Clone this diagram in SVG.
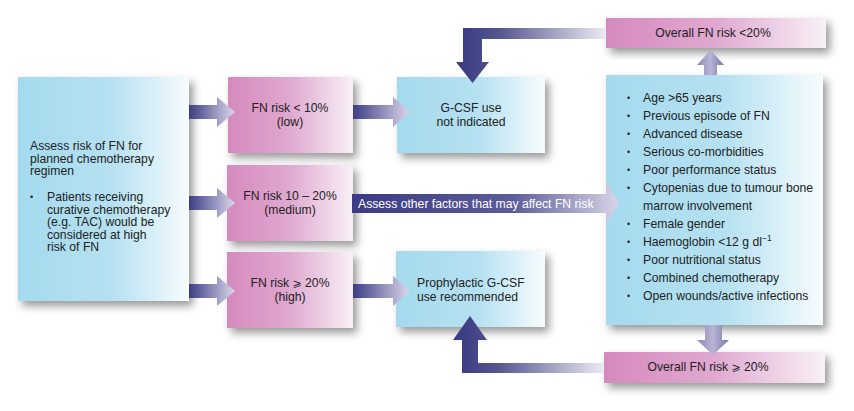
<svg xmlns="http://www.w3.org/2000/svg" width="854" height="411" viewBox="0 0 854 411">
<defs>
<linearGradient id="gPink" x1="0" y1="0" x2="1" y2="0">
<stop offset="0" stop-color="#d58abe"/><stop offset="0.5" stop-color="#e0a9d0"/><stop offset="1" stop-color="#f9f0f7"/>
</linearGradient>
<linearGradient id="gBlue" x1="0" y1="0" x2="1" y2="0">
<stop offset="0" stop-color="#a5daee"/><stop offset="0.55" stop-color="#b5e1f1"/><stop offset="1" stop-color="#f7fcfe"/>
</linearGradient>
<linearGradient id="gArrow" x1="0" y1="0" x2="1" y2="0">
<stop offset="0" stop-color="#3c3d84"/><stop offset="0.45" stop-color="#8483b4"/><stop offset="1" stop-color="#dcd8ea"/>
</linearGradient>
<linearGradient id="gAssess" x1="0" y1="0" x2="1" y2="0">
<stop offset="0" stop-color="#3a3b82"/><stop offset="0.6" stop-color="#5c5c98"/><stop offset="1" stop-color="#d9d5e8"/>
</linearGradient>
<linearGradient id="gTopL" gradientUnits="userSpaceOnUse" x1="606" y1="0" x2="463" y2="0">
<stop offset="0" stop-color="#ecebf3"/><stop offset="0.75" stop-color="#55558f"/><stop offset="1" stop-color="#3c3d84"/>
</linearGradient>
<linearGradient id="gBotL" gradientUnits="userSpaceOnUse" x1="604" y1="0" x2="462" y2="0">
<stop offset="0" stop-color="#ecebf3"/><stop offset="0.75" stop-color="#55558f"/><stop offset="1" stop-color="#3c3d84"/>
</linearGradient>
<linearGradient id="gVert" x1="0" y1="0" x2="1" y2="0">
<stop offset="0" stop-color="#8c8ab8"/><stop offset="0.5" stop-color="#b8b4d4"/><stop offset="1" stop-color="#7775a8"/>
</linearGradient>
<filter id="sh" x="-20%" y="-20%" width="150%" height="160%">
<feDropShadow dx="4" dy="5" stdDeviation="4" flood-color="#000" flood-opacity="0.4"/>
</filter>
</defs>
<style>
text{font-family:"Liberation Sans",Arial,"DejaVu Sans",sans-serif;font-size:12.2px;fill:#222}
.c{text-anchor:middle}
.pink{fill:url(#gPink);filter:url(#sh)}
.blue{fill:url(#gBlue);filter:url(#sh)}
.bul{font-size:9px}
.w{fill:#fff}
</style>
<rect width="854" height="411" fill="#fff"/>

<g id="assess-box">
<rect class="blue" x="18" y="77" width="171" height="224"/>
<text x="30" y="150">Assess risk of FN for</text>
<text x="30" y="162.5">planned chemotherapy</text>
<text x="30" y="175">regimen</text>
<text class="bul" x="30" y="200">•</text>
<text x="47" y="201">Patients receiving</text>
<text x="47" y="213.5">curative chemotherapy</text>
<text x="47" y="226">(e.g. TAC) would be</text>
<text x="47" y="238.5">considered at high</text>
<text x="47" y="251">risk of FN</text>
</g>

<g id="risk-low">
<rect class="pink" x="228" y="77" width="125" height="76"/>
<text class="c" x="290" y="112">FN risk &lt; 10%</text>
<text class="c" x="290" y="126">(low)</text>
</g>
<g id="risk-medium">
<rect class="pink" x="227" y="165" width="126" height="76"/>
<text class="c" x="290" y="200">FN risk 10 – 20%</text>
<text class="c" x="290" y="214">(medium)</text>
</g>
<g id="risk-high">
<rect class="pink" x="227" y="252" width="126" height="76"/>
<text class="c" x="290" y="287">FN risk <tspan font-family="DejaVu Sans" font-size="11">⩾</tspan> 20%</text>
<text class="c" x="290" y="301">(high)</text>
</g>

<g id="gcsf-not">
<rect class="blue" x="397" y="77" width="148" height="76"/>
<text class="c" x="471" y="112">G-CSF use</text>
<text class="c" x="471" y="126">not indicated</text>
</g>
<g id="gcsf-yes">
<rect class="blue" x="396" y="251" width="149" height="76"/>
<text x="417" y="287">Prophylactic G-CSF</text>
<text x="417" y="301">use recommended</text>
</g>

<g id="factors">
<rect class="blue" x="606" y="75" width="217" height="250"/>
<text class="bul" x="627" y="101">•</text><text x="643" y="102">Age &gt;65 years</text>
<text class="bul" x="627" y="119">•</text><text x="643" y="120">Previous episode of FN</text>
<text class="bul" x="627" y="137">•</text><text x="643" y="138">Advanced disease</text>
<text class="bul" x="627" y="155">•</text><text x="643" y="156">Serious co-morbidities</text>
<text class="bul" x="627" y="173">•</text><text x="643" y="174">Poor performance status</text>
<text class="bul" x="627" y="191">•</text><text x="643" y="192">Cytopenias due to tumour bone</text>
<text x="643" y="210">marrow involvement</text>
<text class="bul" x="627" y="227">•</text><text x="643" y="228">Female gender</text>
<text class="bul" x="627" y="245">•</text><text x="643" y="246">Haemoglobin &lt;12 g dl<tspan font-size="8.5" dy="-5">−1</tspan></text>
<text class="bul" x="627" y="263">•</text><text x="643" y="264">Poor nutritional status</text>
<text class="bul" x="627" y="281">•</text><text x="643" y="282">Combined chemotherapy</text>
<text class="bul" x="627" y="299">•</text><text x="643" y="300">Open wounds/active infections</text>
</g>

<g id="overall-low">
<rect class="pink" x="606" y="18" width="220" height="30"/>
<text class="c" x="713" y="37">Overall FN risk &lt;20%</text>
</g>
<g id="overall-high">
<rect class="pink" x="604" y="352" width="221" height="31"/>
<text class="c" x="708" y="371">Overall FN risk <tspan font-family="DejaVu Sans" font-size="11">⩾</tspan> 20%</text>
</g>

<g id="connectors">
<polygon fill="url(#gArrow)" points="189,105 217,105 217,97 235,112 217,127 217,119 189,119"/>
<polygon fill="url(#gArrow)" points="189,196 217,196 217,188 235,203 217,218 217,210 189,210"/>
<polygon fill="url(#gArrow)" points="189,284 217,284 217,276 235,291 217,306 217,298 189,298"/>
<polygon fill="url(#gArrow)" points="353,105 393,105 393,97 410,112 393,127 393,119 353,119"/>
<polygon fill="url(#gArrow)" points="353,284 393,284 393,276 410,291 393,306 393,298 353,298"/>
<polygon fill="url(#gAssess)" points="352,194 606,194 606,182 619,203 606,224 606,213 352,213"/>
<text class="w" x="358" y="208">Assess other factors that may affect FN risk</text>
<polygon fill="url(#gTopL)" points="606,28 463,28 463,62 456,62 472.5,83 489,62 482,62 482,39 606,39"/>
<polygon fill="url(#gBotL)" points="470,316 487,340 478,340 478,363 604,363 604,373 462,373 462,340 453,340"/>
<polygon fill="url(#gVert)" points="704,75 704,65 697,65 710.5,50 724,65 717,65 717,75"/>
<polygon fill="url(#gVert)" points="705,325 722,325 722,340 729,340 713,355 697,340 705,340"/>
</g>
</svg>
